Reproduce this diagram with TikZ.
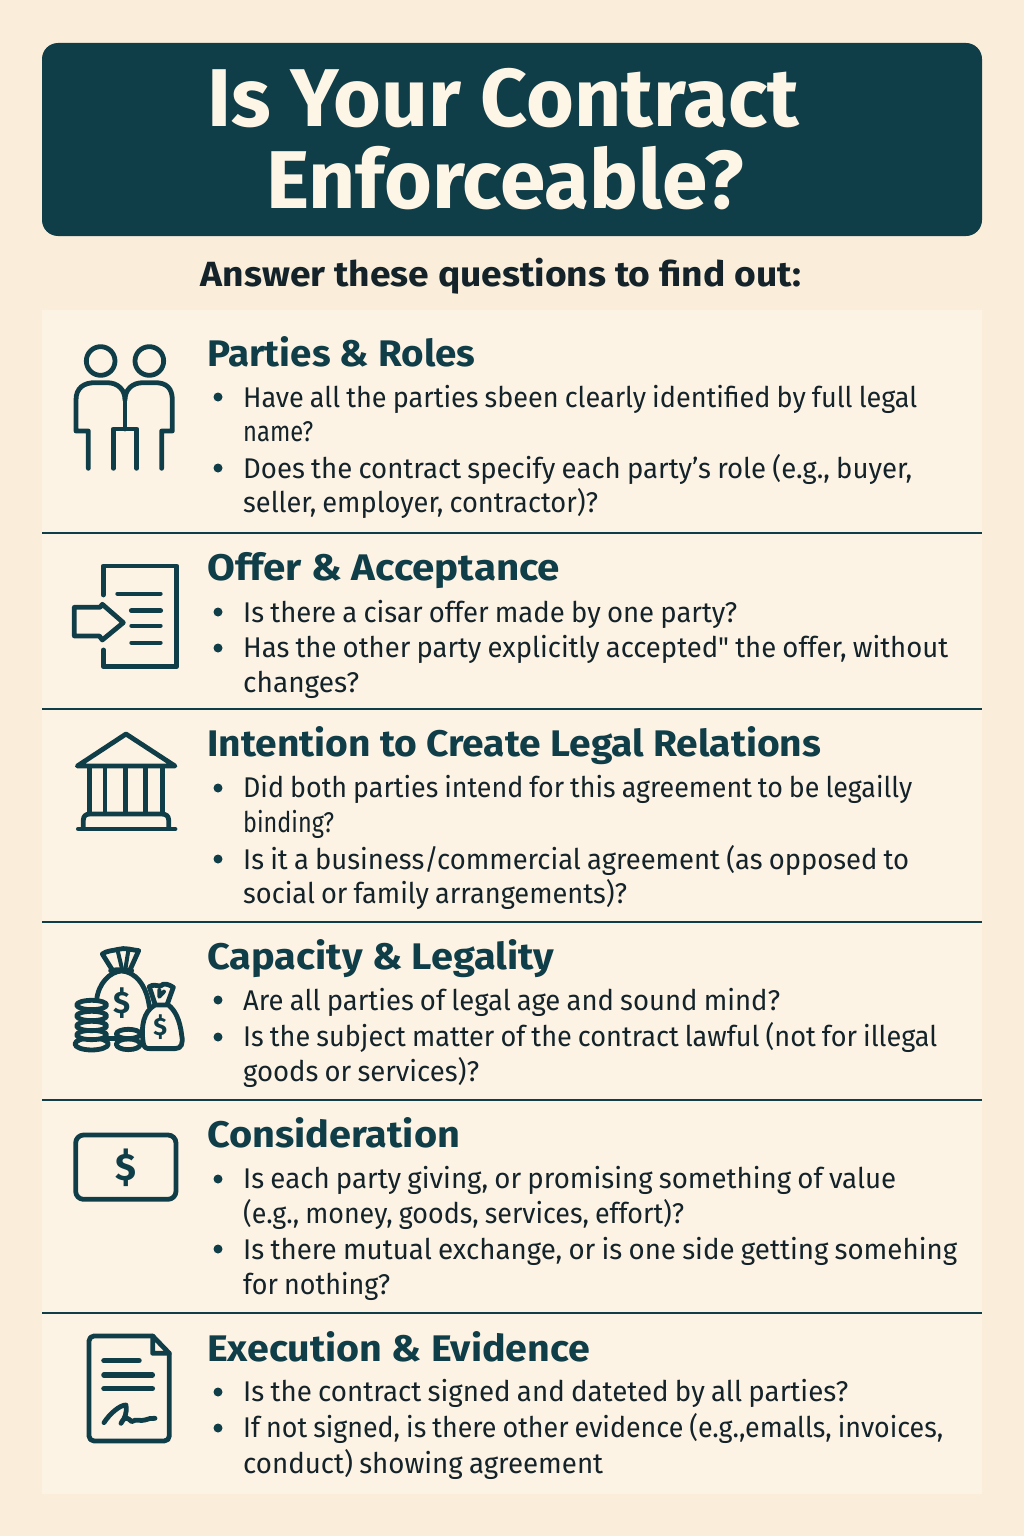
\documentclass[tikz,border=0pt]{standalone}
\usepackage{fontspec}
\setmainfont{Fira Sans}
\newfontfamily\bodyfam[WordSpace=0.85]{Fira Sans}
\newcommand{\fitw}[2]{\resizebox{#1pt}{\height}{#2}}
\definecolor{bgout}{HTML}{FAEEDB}
\definecolor{panel}{HTML}{FDF3E4}
\definecolor{ink}{HTML}{0F3D48}
\definecolor{cream}{HTML}{FDF5E6}
\definecolor{dark}{HTML}{14232A}
\tikzset{
 bodytext/.style={anchor=base west,inner sep=0pt,text=dark,font=\bodyfam\fontsize{28.5}{30}\selectfont},
 headtext/.style={anchor=base west,inner sep=0pt,text=ink,font=\fontsize{37}{40}\selectfont\bfseries},
 titletext/.style={anchor=base,inner sep=0pt,text=cream,font=\fontsize{82}{80}\selectfont\bfseries},
 subtext/.style={anchor=base,inner sep=0pt,text=dark,font=\fontsize{35}{36}\selectfont\bfseries},
 bulletdot/.style={circle,fill=ink,inner sep=0pt,minimum size=9pt},
 rulerline/.style={draw=ink,line width=2pt},
 ico/.style={draw=ink,line width=4.8pt,line cap=round,line join=round},
 icothin/.style={draw=ink,line width=4pt,line cap=round,line join=round},
 dollar/.style={inner sep=0pt,text=ink}
}
\begin{document}
\begin{tikzpicture}[x=1pt,y=-1pt]
\useasboundingbox (0,0) rectangle (1024,1536);
\fill[bgout] (0,0) rectangle (1024,1536);
\fill[panel] (42,310) rectangle (982,1494);
\fill[ink,rounded corners=16pt] (42,43) rectangle (982,236);
\node[titletext] (title1) at (503,127) {Is Your Contract};
\node[titletext] (title2) at (505,208) {Enforceable?};
\node[subtext] (sub) at (501,286) {\fitw{600}{Answer these questions to find out:}};
\draw[rulerline] (42,533) -- (982,533);
\draw[rulerline] (42,709) -- (982,709);
\draw[rulerline] (42,922) -- (982,922);
\draw[rulerline] (42,1100) -- (982,1100);
\draw[rulerline] (42,1313) -- (982,1313);

\node[headtext] (h1) at (207,366) {\fitw{268}{Parties \& Roles}};
\node[bulletdot] (b11) at (218,397) {};
\node[bodytext] (t11) at (243,407) {\fitw{674}{Have all the parties sbeen clearly identified by full legal}};
\node[bodytext] (t12) at (243,441.5) {\fitw{70}{name?}};
\node[bulletdot] (b12) at (218,468) {};
\node[bodytext] (t13) at (243,478) {\fitw{669}{Does the contract specify each party’s role (e.g., buyer,}};
\node[bodytext] (t14) at (243,512) {\fitw{355}{seller, employer, contractor)?}};

\node[headtext] (h2) at (207,580) {\fitw{353}{Offer \& Acceptance}};
\node[bulletdot] (b21) at (218,612) {};
\node[bodytext] (t21) at (243,622) {\fitw{494}{Is there a cisar offer made by one party?}};
\node[bulletdot] (b22) at (218,648) {};
\node[bodytext] (t22) at (243,657) {\fitw{705}{Has the other party explicitly accepted" the offer, without}};
\node[bodytext] (t23) at (243,692.5) {\fitw{116}{changes?}};

\node[headtext] (h3) at (207,756) {\fitw{614}{Intention to Create Legal Relations}};
\node[bulletdot] (b31) at (218,788) {};
\node[bodytext] (t31) at (243,797) {\fitw{669}{Did both parties intend for this agreement to be legailly}};
\node[bodytext] (t32) at (243,832.5) {\fitw{91}{binding?}};
\node[bulletdot] (b32) at (218,859) {};
\node[bodytext] (t33) at (243,869) {\fitw{666}{Is it a business/commercial agreement (as opposed to}};
\node[bodytext] (t34) at (243,903) {\fitw{384}{social or family arrangements)?}};

\node[headtext] (h4) at (207,969) {\fitw{347}{Capacity \& Legality}};
\node[bulletdot] (b41) at (218,1000) {};
\node[bodytext] (t41) at (243,1010) {\fitw{537}{Are all parties of legal age and sound mind?}};
\node[bulletdot] (b42) at (218,1037) {};
\node[bodytext] (t42) at (243,1046.5) {\fitw{694}{Is the subject matter of the contract lawful (not for illegal}};
\node[bodytext] (t43) at (243,1081) {\fitw{236}{goods or services)?}};

\node[headtext] (h5) at (207,1147) {\fitw{253}{Consideration}};
\node[bulletdot] (b51) at (218,1179) {};
\node[bodytext] (t51) at (243,1188) {\fitw{653}{Is each party giving, or promising something of value}};
\node[bodytext] (t52) at (243,1223) {\fitw{441}{(e.g., money, goods, services, effort)?}};
\node[bulletdot] (b52) at (218,1249) {};
\node[bodytext] (t53) at (243,1259) {\fitw{714}{Is there mutual exchange, or is one side getting somehing}};
\node[bodytext] (t54) at (243,1294) {\fitw{147}{for nothing?}};

\node[headtext] (h6) at (207,1361) {\fitw{383}{Execution \& Evidence}};
\node[bulletdot] (b61) at (218,1392) {};
\node[bodytext] (t61) at (243,1401) {\fitw{605}{Is the contract signed and dateted by all parties?}};
\node[bulletdot] (b62) at (218,1428) {};
\node[bodytext] (t62) at (243,1437.5) {\fitw{700}{If not signed, is there other evidence (e.g.,emalls, invoices,}};
\node[bodytext] (t63) at (243,1473) {\fitw{360}{conduct) showing agreement}};

% people + document icons
\begin{scope}[shift={(40,320)},x=0.3333pt,y=-0.3333pt]
\draw[ico] (182,123) circle (43);
\draw[ico] (328,123) circle (43);
\draw[ico] (145,445) -- (145,333) -- (108,333) -- (108,240) .. controls (108,205) and (130,188) .. (165,188) -- (200,188) .. controls (235,188) and (255,210) .. (255,240) .. controls (255,210) and (275,188) .. (310,188) -- (345,188) .. controls (380,188) and (397,205) .. (397,240) -- (397,333) -- (365,333) -- (365,445);
\draw[ico] (255,240) -- (255,327);
\draw[ico] (220,445) -- (220,327) -- (290,327) -- (290,445);
\draw[ico] (190,825) -- (190,738) -- (410,738) -- (410,1040) -- (190,1040) -- (190,990);
\draw[icothin] (232,821) -- (362,821);
\draw[ico] (274,872) -- (362,872);
\draw[icothin] (274,917) -- (362,917);
\draw[icothin] (274,968) -- (362,968);
\draw[ico] (103,862) -- (180,862) -- (187,853) -- (250,908) -- (187,960) -- (178,948) -- (103,948) -- cycle;
\end{scope}
% bank
\begin{scope}[shift={(40,710)},x=0.3333pt,y=-0.3333pt]
\draw[ico] (112,168) -- (258,72) -- (405,168) -- cycle;
\foreach \cx in {148,195,257,317,367} \draw[ico,line cap=butt] (\cx,168) -- (\cx,310);
\draw[ico] (130,350) -- (130,330) .. controls (130,318) and (138,312) .. (150,312) -- (365,312) .. controls (378,312) and (386,318) .. (386,330) -- (386,350);
\draw[ico] (115,357) -- (405,357);
% money bags
\draw[ico] (217,780) -- (187,732) .. controls (200,722) and (220,722) .. (235,718) .. controls (255,712) and (275,720) .. (296,722) -- (270,780);
\draw[icothin] (233,722) -- (245,772);
\draw[icothin] (265,722) -- (257,772);
\draw[ico] (212,782) .. controls (230,778) and (255,778) .. (275,782);
\draw[ico] (170,870) .. controls (175,820) and (210,785) .. (245,783) .. controls (285,785) and (320,825) .. (328,890);
\draw[ico] (205,985) -- (230,985);
\node[dollar,font=\bfseries\fontsize{31}{31}\selectfont] (d1) at (245,878) {\$};
\draw[ico,fill=panel] (155,1002) ellipse (50 and 18);
\draw[ico,fill=panel] (155,975) ellipse (45 and 14);
\draw[ico,fill=panel] (155,948) ellipse (45 and 14);
\draw[ico,fill=panel] (155,918) ellipse (45 and 14);
\draw[ico,fill=panel] (155,885) ellipse (45 and 14);
\draw[ico,fill=panel] (265,1003) ellipse (36 and 16);
\draw[ico,fill=panel] (265,972) ellipse (36 and 14);
\draw[ico,fill=panel] (345,885) .. controls (310,905) and (302,950) .. (310,1000) .. controls (312,1012) and (318,1016) .. (330,1016) -- (405,1016) .. controls (425,1016) and (430,1000) .. (425,975) .. controls (420,930) and (405,900) .. (385,885) -- cycle;
\draw[ico] (345,882) -- (328,830) .. controls (340,822) and (350,828) .. (362,828) .. controls (370,818) and (385,822) .. (400,832) -- (382,882);
\draw[icothin] (358,840) -- (358,860) -- (372,845);
\node[dollar,font=\bfseries\fontsize{25}{25}\selectfont] (d2) at (361,950) {\$};
\end{scope}
\begin{scope}[shift={(40,1110)},x=0.3333pt,y=-0.3333pt]
\draw[ico,rounded corners=8pt] (107,75) rectangle (408,268);
\node[dollar,font=\bfseries\fontsize{38}{38}\selectfont] (d3) at (258,172) {\$};
\draw[ico,rounded corners=5pt] (338,678) -- (147,678) -- (147,993) -- (388,993) -- (388,730);
\draw[ico] (338,678) -- (388,730) -- (338,730) -- cycle;
\draw[draw=ink,line width=5.5pt,line cap=round] (192,752) -- (297,752);
\draw[draw=ink,line width=5.5pt,line cap=round] (192,795) -- (337,795);
\draw[draw=ink,line width=5.5pt,line cap=round] (192,836) -- (337,836);
\draw[ico] (192,938) .. controls (210,910) and (240,885) .. (258,885) .. controls (262,905) and (255,925) .. (243,940) .. controls (255,915) and (265,925) .. (275,935) .. controls (290,925) and (300,935) .. (315,930) .. controls (325,925) and (335,925) .. (345,925);
\end{scope}
\end{tikzpicture}
\end{document}
